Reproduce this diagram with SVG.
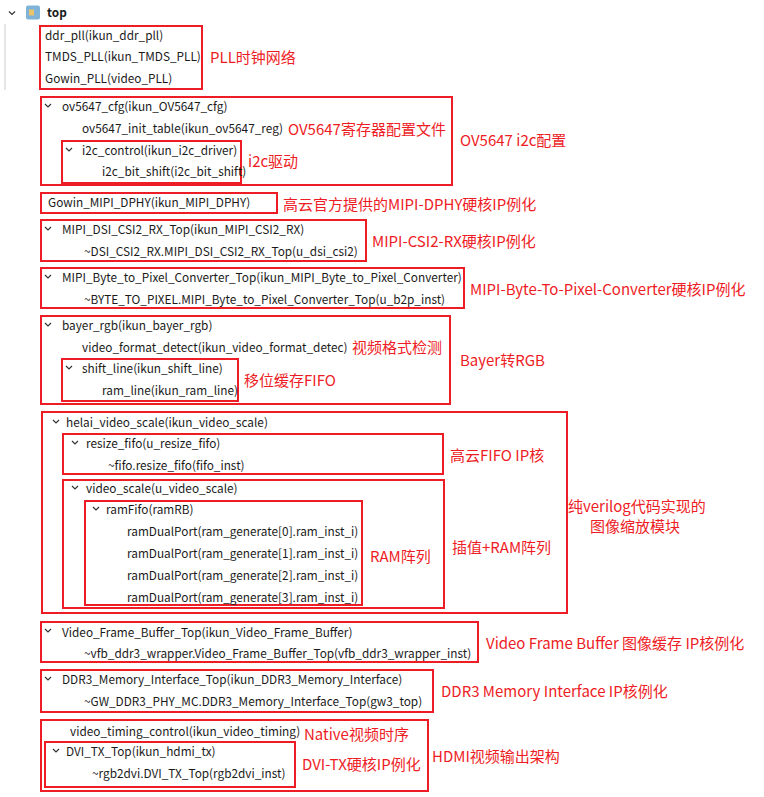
<svg xmlns="http://www.w3.org/2000/svg" width="764" height="797" viewBox="0 0 764 797">
<style>
.t{font-family:"Noto Sans CJK SC","Liberation Sans",sans-serif;font-size:11.8px;fill:#1a1a1a;dominant-baseline:middle}
.r{font-family:"Noto Sans CJK SC","Liberation Sans",sans-serif;font-size:15px;fill:#ee1c25;dominant-baseline:middle}
.b{fill:none;stroke:#ee1c25;stroke-width:2}
.c{fill:none;stroke:#333;stroke-width:1.2}
</style>
<defs><path id="cv" d="M-3,-2 L0,1 L3,-2" class="c"/></defs>
<rect width="764" height="797" fill="#fff"/>
<line x1="5" y1="24" x2="5" y2="90" stroke="#ccc"/>
<g transform="translate(0,1.5)">
<g id="top"><use href="#cv" x="12" y="12"/><rect x="26" y="4" width="14" height="14" fill="#7fb3d8" rx="2"/><rect x="29" y="8" width="5" height="6" fill="#e9c46a"/><text class="t" x="47" y="12" font-weight="bold" font-size="12.5">top</text></g>
</g>
<g id="pll"><rect class="b" x="40" y="26" width="162" height="63"/>
<text class="t" x="45" y="36.5">ddr_pll(ikun_ddr_pll)</text><text class="t" x="45" y="57.5">TMDS_PLL(ikun_TMDS_PLL)</text><text class="t" x="45" y="79.5">Gowin_PLL(video_PLL)</text>
<text class="r" x="210" y="59">PLL时钟网络</text></g>
<g id="ov5647"><rect class="b" x="41" y="97" width="411" height="88"/><use href="#cv" x="48" y="106"/>
<text class="t" x="62" y="107.5">ov5647_cfg(ikun_OV5647_cfg)</text><text class="t" x="82" y="129.5">ov5647_init_table(ikun_ov5647_reg)</text>
<text class="r" x="288" y="131">OV5647寄存器配置文件</text><text class="r" x="460" y="142">OV5647 i2c配置</text></g>
<g id="i2c"><rect class="b" x="62" y="141" width="179" height="42"/><use href="#cv" x="69" y="150"/>
<text class="t" x="82" y="151.5">i2c_control(ikun_i2c_driver)</text><text class="t" x="102" y="172.5">i2c_bit_shift(i2c_bit_shift)</text>
<text class="r" x="248" y="163">i2c驱动</text></g>
<g id="dphy"><rect class="b" x="41" y="193" width="236" height="20"/><text class="t" x="48" y="204">Gowin_MIPI_DPHY(ikun_MIPI_DPHY)</text>
<text class="r" x="283" y="206">高云官方提供的MIPI-DPHY硬核IP例化</text></g>
<g id="csi"><rect class="b" x="41" y="220" width="325" height="41"/><use href="#cv" x="48" y="229"/>
<text class="t" x="62" y="230.5">MIPI_DSI_CSI2_RX_Top(ikun_MIPI_CSI2_RX)</text><text class="t" x="84" y="252.5">~DSI_CSI2_RX.MIPI_DSI_CSI2_RX_Top(u_dsi_csi2)</text>
<text class="r" x="372" y="243">MIPI-CSI2-RX硬核IP例化</text></g>
<g id="b2p"><rect class="b" x="41" y="268" width="423" height="40"/><use href="#cv" x="48" y="277"/>
<text class="t" x="62" y="278.5">MIPI_Byte_to_Pixel_Converter_Top(ikun_MIPI_Byte_to_Pixel_Converter)</text><text class="t" x="84" y="300.5">~BYTE_TO_PIXEL.MIPI_Byte_to_Pixel_Converter_Top(u_b2p_inst)</text>
<text class="r" x="470" y="291">MIPI-Byte-To-Pixel-Converter硬核IP例化</text></g>
<g id="bayer"><rect class="b" x="41" y="316" width="409" height="88"/><use href="#cv" x="48" y="325"/>
<text class="t" x="62" y="326.5">bayer_rgb(ikun_bayer_rgb)</text><text class="t" x="82" y="348.5">video_format_detect(ikun_video_format_detec)</text>
<text class="r" x="352" y="349">视频格式检测</text><text class="r" x="460" y="362">Bayer转RGB</text></g>
<g id="shift"><rect class="b" x="62" y="359" width="176" height="42"/><use href="#cv" x="69" y="368"/>
<text class="t" x="82" y="369.5">shift_line(ikun_shift_line)</text><text class="t" x="102" y="391.5">ram_line(ikun_ram_line)</text>
<text class="r" x="244" y="382">移位缓存FIFO</text></g>
<g id="scale"><rect class="b" x="42" y="412" width="525" height="201"/><use href="#cv" x="56" y="422"/>
<text class="t" x="66" y="423.5">helai_video_scale(ikun_video_scale)</text>
<text class="r" x="568" y="508">纯verilog代码实现的</text><text class="r" x="590" y="528">图像缩放模块</text></g>
<g id="resize"><rect class="b" x="63" y="434" width="380" height="40"/><use href="#cv" x="75" y="443"/>
<text class="t" x="86" y="444.5">resize_fifo(u_resize_fifo)</text><text class="t" x="108" y="466.5">~fifo.resize_fifo(fifo_inst)</text>
<text class="r" x="450" y="457">高云FIFO IP核</text></g>
<g id="vscale"><rect class="b" x="63" y="480" width="381" height="128"/><use href="#cv" x="75" y="488"/>
<text class="t" x="86" y="489.5">video_scale(u_video_scale)</text><text class="r" x="452" y="549">插值+RAM阵列</text></g>
<g id="ramfifo"><rect class="b" x="85" y="501" width="277" height="104"/><use href="#cv" x="96" y="509"/>
<text class="t" x="106" y="510.5">ramFifo(ramRB)</text>
<text class="t" x="127" y="532.5">ramDualPort(ram_generate[0].ram_inst_i)</text><text class="t" x="127" y="554.5">ramDualPort(ram_generate[1].ram_inst_i)</text>
<text class="t" x="127" y="576.5">ramDualPort(ram_generate[2].ram_inst_i)</text><text class="t" x="127" y="598.5">ramDualPort(ram_generate[3].ram_inst_i)</text>
<text class="r" x="370" y="558">RAM阵列</text></g>
<g id="vfb"><rect class="b" x="41" y="622" width="437" height="40"/><use href="#cv" x="48" y="631"/>
<text class="t" x="62" y="633.5">Video_Frame_Buffer_Top(ikun_Video_Frame_Buffer)</text><text class="t" x="84" y="654.5">~vfb_ddr3_wrapper.Video_Frame_Buffer_Top(vfb_ddr3_wrapper_inst)</text>
<text class="r" x="486" y="645">Video Frame Buffer 图像缓存 IP核例化</text></g>
<g id="ddr3"><rect class="b" x="41" y="670" width="392" height="42"/><use href="#cv" x="48" y="679"/>
<text class="t" x="62" y="680.5">DDR3_Memory_Interface_Top(ikun_DDR3_Memory_Interface)</text><text class="t" x="84" y="702.5">~GW_DDR3_PHY_MC.DDR3_Memory_Interface_Top(gw3_top)</text>
<text class="r" x="441" y="693">DDR3 Memory Interface IP核例化</text></g>
<g id="hdmi"><rect class="b" x="41" y="720" width="387" height="71"/>
<text class="t" x="70" y="732.5">video_timing_control(ikun_video_timing)</text>
<text class="r" x="304" y="736">Native视频时序</text><text class="r" x="432" y="758">HDMI视频输出架构</text></g>
<g id="dvi"><rect class="b" x="45" y="742" width="250" height="45"/><use href="#cv" x="56" y="751"/>
<text class="t" x="66" y="752.5">DVI_TX_Top(ikun_hdmi_tx)</text><text class="t" x="92" y="774.5">~rgb2dvi.DVI_TX_Top(rgb2dvi_inst)</text>
<text class="r" x="302" y="766">DVI-TX硬核IP例化</text></g>
<g id="connectors"/>
</svg>
